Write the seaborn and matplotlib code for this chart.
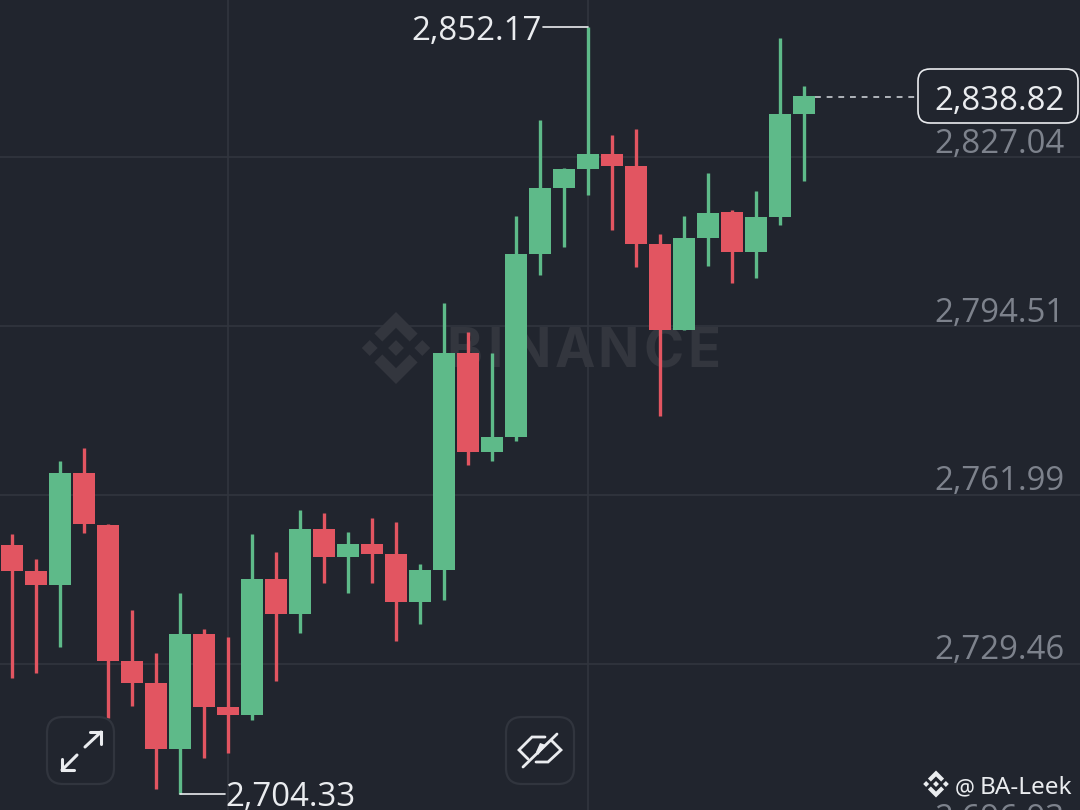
import pandas as pd
import matplotlib
matplotlib.use('Agg')
import matplotlib.pyplot as plt
import matplotlib.transforms as mtransforms
from matplotlib.patches import FancyBboxPatch, Polygon
import seaborn as sns

opens = [2752.27, 2747.32, 2744.56, 2766.27, 2756.19, 2729.97, 2725.79, 2713.00, 2735.18, 2721.16,
         2719.56, 2745.84, 2739.03, 2755.48, 2750.08, 2752.47, 2750.66, 2741.34, 2747.57, 2789.29,
         2770.26, 2773.15, 2808.43, 2821.10, 2824.76, 2827.71, 2825.34, 2810.36, 2793.78, 2811.52,
         2816.47, 2808.76, 2815.56, 2835.42]
closes = [2747.32, 2744.56, 2766.27, 2756.32, 2730.03, 2725.79, 2713.00, 2735.18, 2721.16, 2719.56,
          2745.84, 2739.03, 2755.48, 2750.08, 2752.47, 2750.66, 2741.34, 2747.45, 2789.29, 2770.26,
          2773.15, 2808.43, 2821.10, 2824.82, 2827.71, 2825.40, 2810.36, 2793.78, 2811.52, 2816.39,
          2808.76, 2815.51, 2835.36, 2838.82]
highs = [2754.40, 2749.69, 2768.53, 2770.98, 2756.32, 2739.80, 2731.45, 2743.02, 2736.08, 2734.54,
         2754.40, 2750.99, 2759.02, 2758.44, 2754.90, 2757.48, 2756.82, 2748.61, 2798.93, 2793.45,
         2789.40, 2815.76, 2834.27, 2824.95, 2852.17, 2831.37, 2832.47, 2812.29, 2815.76, 2823.99,
         2816.91, 2820.58, 2850.02, 2840.88]
lows = [2726.75, 2727.60, 2732.72, 2754.70, 2718.98, 2721.35, 2705.35, 2704.33, 2711.21, 2712.17,
        2718.65, 2726.11, 2735.31, 2745.06, 2743.14, 2744.95, 2733.82, 2737.16, 2741.72, 2767.75,
        2768.52, 2772.38, 2804.38, 2809.72, 2819.81, 2813.06, 2805.98, 2777.20, 2793.78, 2806.12,
        2802.78, 2803.75, 2814.02, 2822.50]

axis_prices = [2827.04, 2794.51, 2761.99, 2729.46, 2696.93]
axis_labels = ['2,827.04', '2,794.51', '2,761.99', '2,729.46', '2,696.93']
last_price = 2838.82
high_label = '2,852.17'
low_label = '2,704.33'

BG = '#21252e'
GRID = '#31353e'
GREEN = '#5eba89'
RED = '#e25561'
MUTED = '#7d828c'
WHITE = '#eaecef'
MARK = '#33363e'
NUM_FONT = 'Open Sans'
NUM_SIZE = 23.8

sns.set_theme(style='dark', rc={'axes.facecolor': BG, 'figure.facecolor': BG})
plt.rcParams['font.family'] = ['Open Sans', 'DejaVu Sans']

df = pd.DataFrame({'i': range(len(opens)), 'open': opens, 'close': closes, 'high': highs, 'low': lows})
df['up'] = df['close'] >= df['open']
df['base'] = df[['open', 'close']].min(axis=1)
df['height'] = (df['close'] - df['open']).abs()

fig = plt.figure(figsize=(10.8, 8.1), dpi=100)
ax = fig.add_axes([0, 0, 1, 1])

# pixel coordinates for the overlays, origin top left like the screenshot
px = mtransforms.Affine2D().scale(1, -1).translate(0, 810)


def bnb_logo(cx, cy, r, color, z):
    """Binance diamond mark"""
    shapes = [
        [(0, -0.22), (0.22, 0), (0, 0.22), (-0.22, 0)],
        [(-0.73, -0.22), (-0.51, 0), (-0.73, 0.22), (-0.95, 0)],
        [(0.73, -0.22), (0.95, 0), (0.73, 0.22), (0.51, 0)],
        [(0, -1), (0.6, -0.4), (0.38, -0.18), (0, -0.56), (-0.38, -0.18), (-0.6, -0.4)],
        [(0, 1), (0.6, 0.4), (0.38, 0.18), (0, 0.56), (-0.38, 0.18), (-0.6, 0.4)],
    ]
    for shape in shapes:
        pts = [(cx + a * r, cy + b * r) for a, b in shape]
        ax.add_patch(Polygon(pts, closed=True, fc=color, ec='none', transform=px, zorder=z))


def button(x0, y0, x1, y1):
    r = 16
    ax.add_patch(FancyBboxPatch((x0 + r, y0 + r), x1 - x0 - 2 * r, y1 - y0 - 2 * r,
                                boxstyle=f'round,pad={r},rounding_size={r}',
                                fc='none', ec=GRID, lw=1.6, transform=px, zorder=6))


def stroke(points, lw=2.2):
    xs, ys = zip(*points)
    ax.plot(xs, ys, color=WHITE, lw=lw, transform=px, zorder=7,
            solid_capstyle='round', solid_joinstyle='miter')


# grid
for p in axis_prices:
    ax.axhline(p, color=GRID, lw=1.2, zorder=1)
for g in [9, 24]:
    ax.axvline(g, color=GRID, lw=1.2, zorder=1)

# watermark, letter by letter because of its wide tracking
bnb_logo(396, 348, 36, MARK, 2)
for letter, cx in zip('BINANCE', [464, 495, 530, 575, 618, 664, 704]):
    ax.text(cx, 367, letter, color=MARK, fontsize=39, fontweight='bold', family='Inter',
            ha='center', va='baseline', transform=px, zorder=2)

# wicks
wicks = df.melt(id_vars=['i', 'up'], value_vars=['high', 'low'], value_name='price')
sns.lineplot(data=wicks, x='i', y='price', units='i', estimator=None, hue='up',
             palette={True: GREEN, False: RED}, linewidth=2.4, legend=False,
             solid_capstyle='butt', ax=ax, zorder=3)

# bodies
for is_up, color in [(True, GREEN), (False, RED)]:
    sub = df[df['up'] == is_up]
    sns.barplot(data=sub, x='i', y='height', bottom=sub['base'].values, native_scale=True,
                color=color, saturation=1, width=0.885, errorbar=None, linewidth=0, ax=ax, zorder=4)

ax.set_xlim(-0.5, 44.5)
ax.set_ylim(2701.24, 2857.405)
ax.set_xlabel('')
ax.set_ylabel('')
ax.set_xticks([])
ax.set_yticks([])
for s in ax.spines.values():
    s.set_visible(False)

# price axis labels sit just above their grid lines
for p, lab in zip(axis_prices, axis_labels):
    y = 157.5 + (axis_prices[0] - p) * 5.187 - 17
    ax.text(1065, y, lab, color=MUTED, fontsize=NUM_SIZE, family=NUM_FONT, ha='right',
            va='center_baseline', transform=px, zorder=5)

# last price tag
ax.plot([815, 918], [96.7, 96.7], color='#c9ccd2', lw=1.2, dashes=(3.5, 3.5), transform=px, zorder=5)
ax.add_patch(FancyBboxPatch((930, 81), 136, 30, boxstyle='round,pad=12,rounding_size=12',
                            fc=BG, ec=WHITE, lw=1.2, transform=px, zorder=6))
ax.text(1065, 97, f'{last_price:,.2f}', color=WHITE, fontsize=NUM_SIZE, family=NUM_FONT, ha='right',
        va='center_baseline', transform=px, zorder=7)

# high / low markers
ax.plot([22.125, 24], [highs[24], highs[24]], color=WHITE, lw=1.2, zorder=5)
ax.plot([7, 8.875], [lows[7], lows[7]], color=WHITE, lw=1.2, zorder=5)
ax.text(542, 28, high_label, color=WHITE, fontsize=NUM_SIZE, family=NUM_FONT, ha='right',
        va='center_baseline', transform=px, zorder=7)
ax.text(225, 794, low_label, color=WHITE, fontsize=NUM_SIZE, family=NUM_FONT, ha='left',
        va='center_baseline', transform=px, zorder=7)

# expand button
button(47, 717, 114, 784)
stroke([(85, 747), (101, 732)])
stroke([(90, 732), (101, 732), (101, 744)])
stroke([(77, 755), (62, 770)])
stroke([(62, 759), (62, 770), (74, 770)])

# hide button
button(506, 717, 574, 784)
stroke([(545, 737), (532, 737), (519, 750), (528, 759)], lw=2)
stroke([(536, 762), (548, 762), (561, 750), (552, 741)], lw=2)
stroke([(523, 767), (557, 734)], lw=2)
ax.add_patch(Polygon([(546, 745), (540, 743), (536, 752), (538, 755)], closed=True, fc=WHITE, ec='none',
                     transform=px, zorder=7))

# author credit
bnb_logo(936, 784, 13.5, WHITE, 7)
ax.text(955, 794, '@', color=WHITE, fontsize=16, family='Noto Sans', ha='left', va='baseline', transform=px, zorder=7)
ax.text(980, 794, 'BA-Leek', color=WHITE, fontsize=17.5, family='Noto Sans', ha='left', va='baseline', transform=px, zorder=7)

fig.savefig('out.png', dpi=100, facecolor=BG)
